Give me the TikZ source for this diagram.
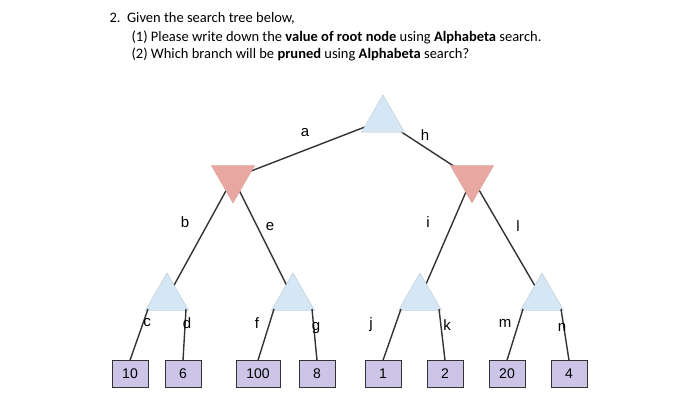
\documentclass[tikz,border=0pt]{standalone}
\usepackage{fontspec}
\setmainfont{Carlito}
\newfontfamily\arialf{Liberation Sans}
\usetikzlibrary{shapes.geometric,backgrounds}
\definecolor{tblue}{HTML}{D5E7F4}
\definecolor{tpink}{HTML}{E8A7A0}
\definecolor{leafc}{HTML}{CCC5E8}
\begin{document}
\begin{tikzpicture}[x=1pt,y=-1pt,
 maxn/.style={regular polygon,regular polygon sides=3,minimum size=50pt,inner sep=0pt,fill=tblue,draw=tblue!70!gray},
 minn/.style={regular polygon,regular polygon sides=3,shape border rotate=180,minimum size=50pt,inner sep=0pt,fill=tpink,draw=tpink!90!gray},
 leaf/.style={draw=black!80,fill=leafc,minimum height=27pt,minimum width=36pt,inner sep=0pt,font=\arialf\fontsize{14}{16}\selectfont},
 lab/.style={font=\arialf\fontsize{15}{17}\selectfont},
 edge/.style={draw=black!80,line width=1.4pt},
 qt/.style={anchor=north west,font=\fontsize{14.5}{17}\selectfont}]
\useasboundingbox (0,0) rectangle (700,403);
\node[qt] (q) at (106,9) {2.\ \ Given the search tree below,};
\node[qt] (q1) at (128,27) {(1) Please write down the \textbf{value of root node} using \textbf{Alphabeta} search.};
\node[qt] (q2) at (128,44) {(2) Which branch will be \textbf{pruned} using \textbf{Alphabeta} search?};
\node[maxn] (R) at (383,120) {};
\node[minn] (L) at (233,178) {};
\node[minn] (Rt) at (472,178) {};
\node[maxn] (A) at (167,298) {};
\node[maxn] (B) at (293,298) {};
\node[maxn] (C) at (420,298) {};
\node[maxn] (D) at (542,298) {};
\coordinate (A1) at (148,309); \coordinate (A2) at (186,309);
\coordinate (B1) at (274,309); \coordinate (B2) at (312,309);
\coordinate (C1) at (401,309); \coordinate (C2) at (439,309);
\coordinate (D1) at (523,309); \coordinate (D2) at (561,309);
\node[leaf] (l1) at (130,374) {10};
\node[leaf] (l2) at (183,374) {6};
\node[leaf,minimum width=44pt] (l3) at (258,374) {100};
\node[leaf] (l4) at (317,374) {8};
\node[leaf] (l5) at (383,374) {1};
\node[leaf] (l6) at (445,374) {2};
\node[leaf] (l7) at (507,374) {20};
\node[leaf] (l8) at (569,374) {4};
\begin{scope}[on background layer]
\draw[edge] (R.center) -- (L.center);
\draw[edge] (R.center) -- (Rt.center);
\draw[edge] (L.center) -- (A.center);
\draw[edge] (L.center) -- (B.center);
\draw[edge] (Rt.center) -- (C.center);
\draw[edge] (Rt.center) -- (D.center);
\end{scope}
\foreach \p/\a/\b in {A/l1/l2,B/l3/l4,C/l5/l6,D/l7/l8}{
 \draw[edge] (\p1) -- (\a.north);
 \draw[edge] (\p2) -- (\b.north);}
\node[lab] (ta) at (305,133) {a};
\node[lab] (th) at (425,135) {h};
\node[lab] (tb) at (185,222) {b};
\node[lab] (te) at (270,227) {e};
\node[lab] (ti) at (428,222) {i};
\node[lab] (tl) at (518,226) {l};
\node[lab] (tc) at (147,323) {c};
\node[lab] (td) at (187,323) {d};
\node[lab] (tf) at (257,323) {f};
\node[lab] (tg) at (316,328) {g};
\node[lab] (tj) at (371,325) {j};
\node[lab] (tk) at (447,325) {k};
\node[lab] (tm) at (505,323) {m};
\node[lab] (tn) at (562,327) {n};
\end{tikzpicture}
\end{document}
